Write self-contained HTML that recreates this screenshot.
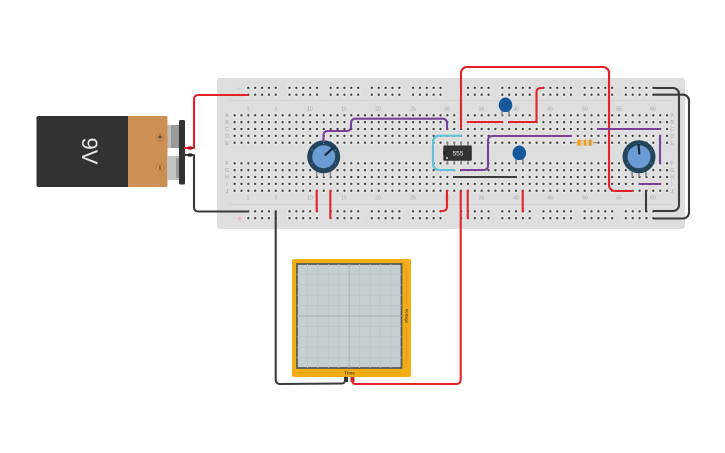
<!DOCTYPE html>
<html><head><meta charset="utf-8"><style>
html,body{margin:0;padding:0;background:#fff;width:725px;height:453px;overflow:hidden}
svg{display:block}
text{font-family:"Liberation Sans",sans-serif}
.n{font-size:5px;fill:#a8a8a8;text-anchor:middle}
.w{fill:none;stroke-width:2.1;stroke-linecap:butt;stroke-linejoin:round}
.r{stroke:#e3232b}.k{stroke:#3a3a3a}.p{stroke:#7b3f98}.c{stroke:#5cc4d6}
</style></head><body>
<svg width="725" height="453" viewBox="0 0 725 453" xmlns="http://www.w3.org/2000/svg">
<defs>
<filter id="b" x="0" y="0" width="100%" height="100%" filterUnits="objectBoundingBox"><feGaussianBlur stdDeviation="0.35"/></filter>
<pattern id="h" patternUnits="userSpaceOnUse" x="231.17" y="111.87" width="6.864" height="6.86">
<circle cx="3.43" cy="3.43" r="2.4" fill="#ececec"/>
<circle cx="3.43" cy="3.43" r="1.2" fill="#3a3a3a"/>
</pattern>
</defs>
<g filter="url(#b)">
<rect x="0" y="0" width="725" height="453" fill="#fff"/>
<rect x="217" y="78" width="468" height="151" rx="3" fill="#dedede"/>
<path d="M229 100.5H673M229 204.5H673" stroke="#d4d4d4" stroke-width="1"/>
<g fill="url(#h)">
<rect x="231.17" y="111.87" width="439.3" height="34.3"/>
<rect x="231.17" y="159.89" width="439.3" height="34.3"/>
<rect x="244.9" y="84.43" width="34.32" height="13.72"/><rect x="286.08" y="84.43" width="34.32" height="13.72"/><rect x="327.27" y="84.43" width="34.32" height="13.72"/><rect x="368.45" y="84.43" width="34.32" height="13.72"/><rect x="409.63" y="84.43" width="34.32" height="13.72"/><rect x="457.68" y="84.43" width="34.32" height="13.72"/><rect x="498.86" y="84.43" width="34.32" height="13.72"/><rect x="540.05" y="84.43" width="34.32" height="13.72"/><rect x="581.23" y="84.43" width="34.32" height="13.72"/><rect x="622.41" y="84.43" width="34.32" height="13.72"/>
<rect x="244.9" y="207.91" width="34.32" height="13.72"/><rect x="286.08" y="207.91" width="34.32" height="13.72"/><rect x="327.27" y="207.91" width="34.32" height="13.72"/><rect x="368.45" y="207.91" width="34.32" height="13.72"/><rect x="409.63" y="207.91" width="34.32" height="13.72"/><rect x="457.68" y="207.91" width="34.32" height="13.72"/><rect x="498.86" y="207.91" width="34.32" height="13.72"/><rect x="540.05" y="207.91" width="34.32" height="13.72"/><rect x="581.23" y="207.91" width="34.32" height="13.72"/><rect x="622.41" y="207.91" width="34.32" height="13.72"/>
</g>
<g class="n">
<text x="248" y="110.5" class="n">1</text><text x="276" y="110.5" class="n">5</text><text x="310" y="110.5" class="n">10</text><text x="344" y="110.5" class="n">15</text><text x="378" y="110.5" class="n">20</text><text x="413" y="110.5" class="n">25</text><text x="447" y="110.5" class="n">30</text><text x="481.5" y="110.5" class="n">35</text><text x="516" y="110.5" class="n">40</text><text x="550" y="110.5" class="n">45</text><text x="585" y="110.5" class="n">50</text><text x="619" y="110.5" class="n">55</text><text x="653" y="110.5" class="n">60</text>
<text x="248" y="199.5" class="n">1</text><text x="276" y="199.5" class="n">5</text><text x="310" y="199.5" class="n">10</text><text x="344" y="199.5" class="n">15</text><text x="378" y="199.5" class="n">20</text><text x="413" y="199.5" class="n">25</text><text x="447" y="199.5" class="n">30</text><text x="481.5" y="199.5" class="n">35</text><text x="516" y="199.5" class="n">40</text><text x="550" y="199.5" class="n">45</text><text x="585" y="199.5" class="n">50</text><text x="619" y="199.5" class="n">55</text><text x="653" y="199.5" class="n">60</text>
<text x="227" y="117" class="n">A</text><text x="227" y="124" class="n">B</text><text x="227" y="131" class="n">C</text><text x="227" y="138" class="n">D</text><text x="227" y="145" class="n">E</text><text x="227" y="165" class="n">F</text><text x="227" y="172" class="n">G</text><text x="227" y="179" class="n">H</text><text x="227" y="186" class="n">I</text><text x="227" y="193" class="n">J</text>
<text x="672" y="117" class="n">A</text><text x="672" y="124" class="n">B</text><text x="672" y="131" class="n">C</text><text x="672" y="138" class="n">D</text><text x="672" y="145" class="n">E</text><text x="672" y="165" class="n">F</text><text x="672" y="172" class="n">G</text><text x="672" y="179" class="n">H</text><text x="672" y="186" class="n">I</text><text x="672" y="193" class="n">J</text>
</g>
<path d="M237 88.5h6" stroke="#c5d3e6" stroke-width="1.5"/>
<path d="M237.5 95h5M240 92.5v5" stroke="#eec7c7" stroke-width="1"/>
<path d="M237.5 218.5h5M240 216v5" stroke="#f0b0b0" stroke-width="1"/>

<!-- battery -->
<rect x="36.5" y="116" width="131" height="71" rx="2" fill="#333"/>
<path d="M128 116H165.500a2 2 0 0 1 2 2V185a2 2 0 0 1-2 2H128z" fill="#cd8f52"/>
<rect x="167.500" y="125" width="12" height="23" fill="#bdbdbd"/><rect x="171" y="125" width="8" height="23" fill="#9a9a9a"/>
<rect x="167" y="156" width="12" height="24" fill="#c4c4c4"/><rect x="176" y="158" width="3" height="20" fill="#9a9a9a"/>
<rect x="179" y="120" width="6" height="64.500" rx="1.500" fill="#333"/>
<circle cx="160" cy="137" r="4" fill="none" stroke="#b57b42" stroke-width=".7"/>
<path d="M157.800 137h4.400M160 134.800v4.400" stroke="#4a3a2a" stroke-width=".9"/>
<circle cx="160" cy="167.500" r="4" fill="none" stroke="#b57b42" stroke-width=".7"/>
<path d="M160 165.300v4.400" stroke="#4a3a2a" stroke-width=".9"/>
<text x="0" y="0" transform="translate(82,151) rotate(90)" font-size="22" fill="#e6e6e6" text-anchor="middle" style="font-family:'Liberation Sans',sans-serif">9V</text>

<!-- potentiometer pins and caps legs -->
<g stroke="#8a8a8a" stroke-width="1.600">
<path d="M316.700 170v7M323.600 170v7M330.400 170v7M632.200 170v7M639 170v7M645.900 170v7"/>
<path d="M502 108v8.500M509 108v8.500M516 156v8.500M523 156v8.500"/>
<path d="M447.500 142v4M454.400 142v4M461.200 142v4M468 142v4M447.500 160v4M454.400 160v4M461.200 160v4M468 160v4"/>
<path d="M571.500 142.700H597" stroke-width="1.200"/>
</g>

<!-- resistor -->
<rect x="576.500" y="139.700" width="17" height="6" rx="2.500" fill="#e8c98e"/>
<rect x="577.500" y="139.700" width="3" height="6" fill="#f09a22"/><rect x="584" y="139.700" width="2" height="6" fill="#f09a22"/><rect x="589" y="139.700" width="2.500" height="6" fill="#d89a3a"/>

<!-- capacitors -->
<path d="M498.700 105.500a6.800 8 0 0 1 13.600 0c0 3-2.500 5.800-5 6.500h-3.600c-2.500-.7-5-3.500-5-6.500z" fill="#17599c"/>
<path d="M512.500 153.500a6.800 8 0 0 1 13.600 0c0 3-2.500 5.800-5 6.500h-3.600c-2.500-.7-5-3.500-5-6.500z" fill="#17599c"/>

<!-- 555 -->
<rect x="443.300" y="145.500" width="28.500" height="15.300" rx="1" fill="#333"/>
<circle cx="447" cy="158" r="1" fill="#ddd"/>
<path d="M443.300 151a2 2 0 0 1 0 4z" fill="#1a1a1a"/>
<text x="458" y="155.500" font-size="6.500" fill="#e8e8e8" text-anchor="middle">555</text>

<!-- pots -->
<g>
<circle cx="323.700" cy="156.700" r="16.500" fill="#24455c"/>
<circle cx="323.700" cy="156.700" r="11.500" fill="#6b9bd2"/>
<path d="M325.500 154.800L332.500 148.500" stroke="#152a3a" stroke-width="2.200" stroke-linecap="round"/>
<path d="M323.700 143v1M335 150.500l1-.5M312.500 150.500l-1-.5M335 163l1 .5M312.500 163l-1 .5" stroke="#5d8cb5" stroke-width="1"/>
</g>
<g>
<circle cx="639" cy="156.700" r="16.500" fill="#24455c"/>
<circle cx="639" cy="156.700" r="11.500" fill="#6b9bd2"/>
<path d="M639.300 153.500L638.500 144" stroke="#152a3a" stroke-width="2.200" stroke-linecap="round"/>
<path d="M639 143v1M650.300 150.500l1-.5M627.800 150.500l-1-.5M650.300 163l1 .5M627.800 163l-1 .5" stroke="#5d8cb5" stroke-width="1"/>
</g>

<!-- scope -->
<rect x="292" y="259" width="119" height="118" rx="2" fill="#f2ad12"/>
<rect x="297" y="264" width="104.500" height="104" fill="#c5cfd2" stroke="#5a5a5a" stroke-width="1.800"/>
<path d="M307.500 264v104M317.900 264v104M328.300 264v104M338.700 264v104M359.500 264v104M369.900 264v104M380.300 264v104M390.700 264v104M297 274.400h104.500M297 284.800h104.500M297 295.200h104.500M297 305.600h104.500M297 326.400h104.500M297 336.800h104.500M297 347.200h104.500M297 357.600h104.500" stroke="#bcc6ca" stroke-width=".7" fill="none"/>
<path d="M349.200 264v104M297 316h104.500" stroke="#a8b1b5" stroke-width=".9" fill="none"/>
<path d="M297 373h40M360 373h41M406.500 265v38M406.500 329v38" stroke="#dc9c10" stroke-width=".8" fill="none"/>
<text x="349.500" y="374.500" font-size="4.500" font-weight="bold" fill="#5a4510" text-anchor="middle">Time</text>
<text x="0" y="0" transform="translate(405.300,316) rotate(90)" font-size="4" font-weight="bold" fill="#5a4510" text-anchor="middle">Voltage</text>
<rect x="344" y="377" width="4" height="5" fill="#333"/><rect x="350.500" y="377" width="4" height="5" fill="#c8202a"/>

<!-- wires -->
<path class="w r" d="M184 148H194V99a4 4 0 0 1 4-4H248"/>
<path class="w k" d="M184 155H194V207.500a4 4 0 0 0 4 4H248"/>
<ellipse cx="190" cy="148" rx="3" ry="1.800" fill="#b5181f"/><ellipse cx="190" cy="155" rx="3" ry="1.800" fill="#2a2a2a"/>
<path class="w k" d="M275.700 211V380a4 4 0 0 0 4 4L342 383.500a3 3 0 0 0 3-3V380"/>
<path class="w r" d="M352.300 380V381a3 3 0 0 0 3 3H456.700a4 4 0 0 0 4-4V190.500"/>
<path class="w r" d="M461 129V73a6 6 0 0 1 6-6H603a6 6 0 0 1 6 6V185a6 6 0 0 0 6 6H633"/>
<path class="w r" d="M466.700 122H503M508 122H537M536.500 122V92a4 4 0 0 1 4-4H544"/>
<path class="w r" d="M316.700 190V212M330.300 190V219M447 190V207a4 4 0 0 1-4 4H439.500M467.700 190V219M522.700 190V212"/>
<path class="w p" d="M323.500 142V135a4 4 0 0 1 4-4H347a4 4 0 0 0 4-4V122.700a4 4 0 0 1 4-4H443a4 4 0 0 1 4 4V130"/>
<path class="w p" d="M460 170H484a4 4 0 0 0 4-4V140a4 4 0 0 1 4-4H571.700"/>
<path class="w p" d="M597 129H660.700M660 135V164M638.500 184H660.700"/>
<path class="w c" d="M461.700 135.700H439a6 6 0 0 0-6 6V164a6 6 0 0 0 6 6H455"/>
<path class="w k" d="M453 177H516.700M646 190V212"/>
<path class="w k" d="M653 88H673a6 6 0 0 1 6 6V205a6 6 0 0 1-6 6H653"/>
<path class="w k" d="M653 94.700H683a6 6 0 0 1 6 6V212.500a6 6 0 0 1-6 6H653"/>
</g>
</svg>
</body></html>
